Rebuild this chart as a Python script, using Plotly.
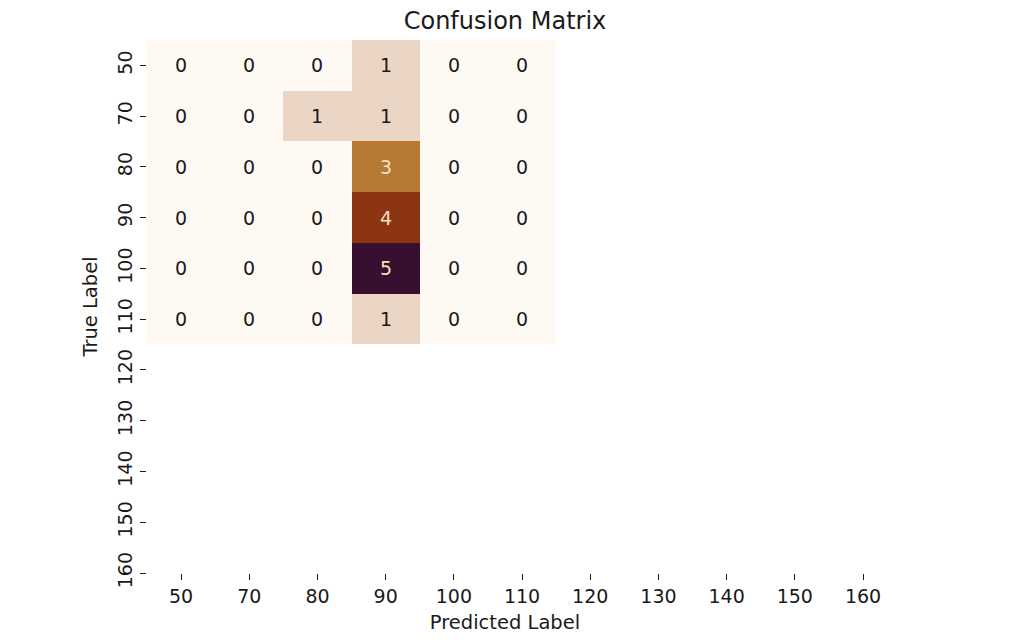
import plotly.graph_objects as go

# Метки классов на осях (все тики, включая отсутствующие в данных)
axis_labels = ["50", "70", "80", "90", "100", "110", "120", "130", "140", "150", "160"]

# Классы, реально присутствующие в матрице
true_labels = ["50", "70", "80", "90", "100", "110"]
pred_labels = ["50", "70", "80", "90", "100", "110"]

# Матрица ошибок (строки - истинные, столбцы - предсказанные)
conf_matrix = [
    [0, 0, 0, 1, 0, 0],
    [0, 0, 1, 1, 0, 0],
    [0, 0, 0, 3, 0, 0],
    [0, 0, 0, 4, 0, 0],
    [0, 0, 0, 5, 0, 0],
    [0, 0, 0, 1, 0, 0],
]

colorscale = [
    [0.0, "#fff9f4"],
    [0.2, "#ebd5c5"],
    [0.6, "#b67934"],
    [0.8, "#8c3513"],
    [1.0, "#38102f"],
]

FONT = "DejaVu Sans, Arial, sans-serif"
TXT = "#1a1a1a"

# Страница имеет отступ body 8px, поэтому фигура чуть меньше окна
W, H = 1016, 636

fig = go.Figure()

fig.add_trace(go.Heatmap(
    z=conf_matrix,
    x=pred_labels,
    y=true_labels,
    colorscale=colorscale,
    zmin=0,
    zmax=5,
    showscale=False,
    hovertemplate="True: %{y}<br>Pred: %{x}<br>Count: %{z}<extra></extra>",
))

# Подписи значений в ячейках (позиции - индексы категорий)
zmax = max(max(r) for r in conf_matrix)
for i, t in enumerate(true_labels):
    for j, p in enumerate(pred_labels):
        v = conf_matrix[i][j]
        fig.add_annotation(
            x=axis_labels.index(p), y=axis_labels.index(t),
            text=str(v), showarrow=False,
            font=dict(size=19, family=FONT,
                      color="#f6dfbf" if v / zmax > 0.5 else TXT),
        )

axis_common = dict(
    type="category",
    categoryorder="array",
    categoryarray=axis_labels,
    tickvals=axis_labels,
    showgrid=False,
    zeroline=False,
    showline=False,
    ticks="outside",
    ticklen=6,
    tickwidth=1.2,
    tickcolor=TXT,
    tickfont=dict(size=19, family=FONT, color=TXT),
    automargin=False,
)

fig.update_layout(
    width=W,
    height=H,
    paper_bgcolor="white",
    plot_bgcolor="white",
    margin=dict(l=139, r=161, t=32, b=71),
    font=dict(family=FONT, color=TXT),
    title=dict(
        text="Confusion Matrix",
        x=(139 + 855) / 2 / W,
        xanchor="center",
        y=1 - 13 / H,
        yanchor="middle",
        font=dict(size=24, family=FONT, color=TXT),
    ),
    xaxis=dict(
        axis_common,
        range=[-0.5, len(axis_labels) - 1],
        title=dict(text="Predicted Label", font=dict(size=19.5, family=FONT, color=TXT), standoff=9),
    ),
    yaxis=dict(
        axis_common,
        range=[len(axis_labels) - 1, -0.5],
        tickangle=-90,
        title=dict(text="True Label", font=dict(size=19.5, family=FONT, color=TXT), standoff=11),
    ),
)

fig.write_html("out.html")
